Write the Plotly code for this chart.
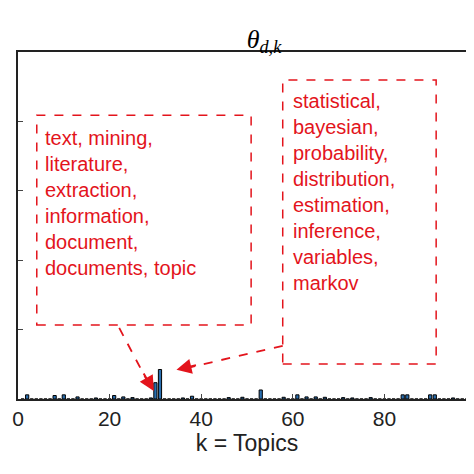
import plotly.graph_objects as go

topics = list(range(1, 101))
theta = [0.0] * 100
small = {2: 0.012, 8: 0.010, 10: 0.012, 13: 0.006, 17: 0.003, 21: 0.010, 23: 0.006,
         25: 0.004, 29: 0.003, 36: 0.003, 38: 0.008, 46: 0.004, 49: 0.005, 53: 0.026,
         58: 0.005, 61: 0.012, 63: 0.006, 65: 0.006, 67: 0.005, 71: 0.004, 73: 0.003,
         77: 0.004, 84: 0.012, 85: 0.012, 90: 0.012, 91: 0.012, 95: 0.003}
for k, v in small.items():
    theta[k - 1] = v
theta[30 - 1] = 0.047
theta[31 - 1] = 0.085

box1 = "text, mining,<br>literature,<br>extraction,<br>information,<br>document,<br>documents, topic"
box2 = "statistical,<br>bayesian,<br>probability,<br>distribution,<br>estimation,<br>inference,<br>variables,<br>markov"
red = "#e3141c"

fig = go.Figure(go.Bar(x=topics, y=theta, marker_color="#2a6fb0",
                       marker_line=dict(color="black", width=1), width=0.7))

ann = dict(xref="paper", yref="paper", showarrow=False, align="left",
           font=dict(family="Arial", size=20, color=red), xanchor="left", yanchor="top")
fig.add_annotation(text=box1, x=0.055, y=0.79, **ann)
fig.add_annotation(text=box2, x=0.595, y=0.895, **ann)

dash = dict(type="rect", xref="paper", yref="paper", line=dict(color=red, width=1.5, dash="dash"))
fig.add_shape(x0=0.041, x1=0.509, y0=0.213, y1=0.818, **dash)
fig.add_shape(x0=0.578, x1=0.913, y0=0.101, y1=0.919, **dash)

line = dict(type="line", xref="x", yref="y", line=dict(color=red, width=1.8, dash="dash"))
fig.add_shape(x0=22.1, y0=0.205, x1=28.5, y1=0.045, **line)
fig.add_shape(x0=57.8, y0=0.153, x1=37.0, y1=0.090, **line)

arrow = dict(showarrow=True, arrowhead=2, arrowsize=1.5, arrowwidth=2, arrowcolor=red,
             axref="pixel", ayref="pixel", text="", xref="x", yref="y")
fig.add_annotation(x=29.65, y=0.023, ax=-11, ay=-19, **arrow)
fig.add_annotation(x=34.6, y=0.084, ax=21, ay=-5, **arrow)

fig.update_layout(
    width=474, height=474, plot_bgcolor="white", paper_bgcolor="white",
    margin=dict(l=8, r=4, t=44, b=83), showlegend=False,
    title=dict(text="<i>θ<sub>d,k</sub></i>", x=0.54, y=0.955,
               font=dict(family="Times New Roman", size=26, color="black")),
    font=dict(family="Arial", color="#222"),
)
fig.update_xaxes(title=dict(text="k = Topics", font=dict(size=23), standoff=6), range=[0, 100],
                 tickvals=[0, 20, 40, 60, 80, 100], tickfont=dict(size=21), ticks="inside",
                 ticklen=5, showline=True, linecolor="#222", linewidth=1.5, mirror=True, showgrid=False)
fig.update_yaxes(range=[0, 1], dtick=0.2, showticklabels=False, ticks="inside", ticklen=5,
                 showline=True, linecolor="#222", linewidth=1.5, mirror=True, showgrid=False, zeroline=False)

fig.write_html("out.html")
